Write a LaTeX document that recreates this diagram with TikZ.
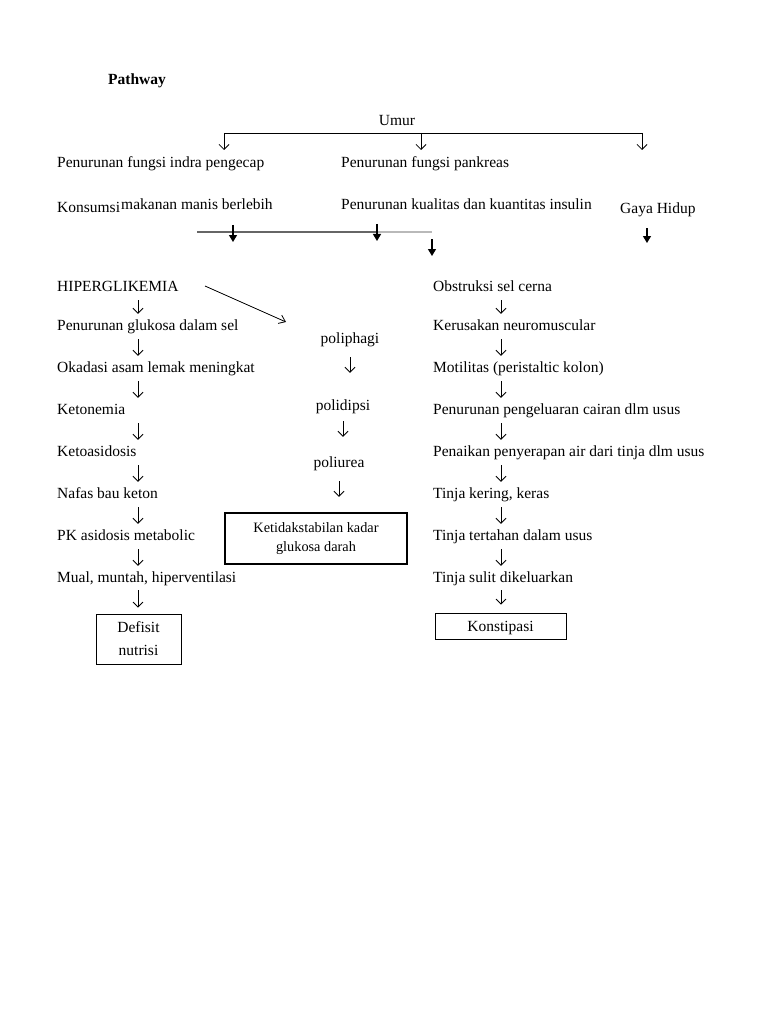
\documentclass[tikz,border=0pt]{standalone}
\usepackage{fontspec}
\setmainfont{Liberation Serif}
\usetikzlibrary{arrows.meta}
\begin{document}
\begin{tikzpicture}[x=1pt,y=-1pt,
  txt/.style={anchor=base west,inner sep=0pt,font=\fontsize{15.5pt}{18pt}\selectfont,text height=11pt,text depth=4pt},
  ctxt/.style={anchor=center,inner sep=0pt,font=\fontsize{15.5pt}{18pt}\selectfont,text height=11pt,text depth=4pt},
  openarr/.style={line width=0.8pt,-{Straight Barb[length=5pt,width=10pt,line width=0.8pt]}},
  fillarr/.style={line width=1.2pt,-{Triangle[length=7pt,width=8pt]}},
  boxnode/.style={draw,line width=0.8pt,align=center,inner sep=0pt,font=\fontsize{15.5pt}{19pt}\selectfont},
  onebox/.style={draw,line width=0.8pt,inner sep=0pt,font=\fontsize{15.5pt}{18pt}\selectfont,text height=13pt,text depth=2pt},
  chainarr/.style={openarr,shorten <=5pt,shorten >=5pt}
]
\useasboundingbox (0,0) rectangle (768,1024);

% title
\node[txt,font=\bfseries\fontsize{15.5pt}{18pt}\selectfont] (title) at (108,85) {Pathway};

% top level
\node[ctxt] (umur) at (397,122) {Umur};
\coordinate (tl) at (224,133);
\coordinate (tm) at (421,133);
\coordinate (tr) at (642,133);
\draw[line width=0.8pt] (tl) -- (tr);
\draw[openarr] (tl) -- ++(0,17);
\draw[openarr] (tm) -- ++(0,17);
\draw[openarr] (tr) -- ++(0,17);

\node[txt] (pfi) at (57,168) {Penurunan fungsi indra pengecap};
\node[txt] (pfp) at (341,168) {Penurunan fungsi pankreas};
\node[txt] (kons) at (57,213) {Konsumsi};
\node[txt] (mak) at (121,210) {makanan manis berlebih};
\node[txt] (pkk) at (341,210) {Penurunan kualitas dan kuantitas insulin};
\node[txt] (gaya) at (620,214) {Gaya Hidup};

% merging line
\coordinate (gl) at (197,232);
\coordinate (gm) at (377,232);
\coordinate (gr) at (432,232);
\draw[line width=1.5pt,gray!80!black] (gl) -- (gm);
\draw[line width=1.5pt,gray!55] (gm) -- (gr);
\draw[fillarr] (233,225) -- (233,242);
\draw[fillarr] (377,224) -- (377,241);
\draw[fillarr] (432,239) -- (432,256);
\draw[fillarr] (gaya.south -| 647,0) ++(0,10) -- (647,243);

% left chain
\coordinate (lx) at (138,0);
\node[txt] (L1) at (57,291) {HIPERGLIKEMIA};
\node[txt] (L2) at (57,330) {Penurunan glukosa dalam sel};
\node[txt] (L3) at (57,372) {Okadasi asam lemak meningkat};
\node[txt] (L4) at (57,414) {Ketonemia};
\node[txt] (L5) at (57,456) {Ketoasidosis};
\node[txt] (L6) at (57,498) {Nafas bau keton};
\node[txt] (L7) at (57,540) {PK asidosis metabolic};
\node[txt] (L8) at (57,582) {Mual, muntah, hiperventilasi};
\node[boxnode,minimum width=85pt,minimum height=50pt,font=\fontsize{15.5pt}{23pt}\selectfont] (def) at (138.5,639) {Defisit\\nutrisi};
\foreach \a/\b in {L1/L2,L2/L3,L3/L4,L4/L5,L5/L6,L6/L7,L7/L8}
  \draw[chainarr] (\a.south -| lx) -- (\b.north -| lx);
\draw[openarr,shorten <=4pt,shorten >=6pt] (L8.south -| lx) -- (def.north -| lx);

% middle chain
\coordinate (hs) at (205,286);
\coordinate (he) at (286,322);
\draw[line width=0.8pt,-{Straight Barb[length=6pt,width=9pt,line width=0.8pt]}] (hs) -- (he);
\node[ctxt] (pha) at (350,340) {poliphagi};
\node[ctxt] (dip) at (343,407) {polidipsi};
\node[ctxt] (uri) at (339,464) {poliurea};
\node[boxnode,line width=2.4pt,minimum width=182pt,minimum height=51pt,font=\fontsize{14.3pt}{19pt}\selectfont] (kgd) at (316,538.5) {Ketidakstabilan kadar\\glukosa darah};
\draw[openarr,shorten <=9.5pt,shorten >=26.5pt] (pha.south) -- (pha.south |- dip.north);
\draw[openarr,shorten <=6.5pt,shorten >=19.5pt] (dip.south) -- (dip.south |- uri.north);
\draw[openarr,shorten <=9.5pt,shorten >=15pt] (uri.south) -- (uri.south |- kgd.north);

% right chain
\coordinate (rx) at (501,0);
\node[txt] (R1) at (433,291) {Obstruksi sel cerna};
\node[txt] (R2) at (433,330) {Kerusakan neuromuscular};
\node[txt] (R3) at (433,372) {Motilitas (peristaltic kolon)};
\node[txt] (R4) at (433,414) {Penurunan pengeluaran cairan dlm usus};
\node[txt] (R5) at (433,456) {Penaikan penyerapan air dari tinja dlm usus};
\node[txt] (R6) at (433,498) {Tinja kering, keras};
\node[txt] (R7) at (433,540) {Tinja tertahan dalam usus};
\node[txt] (R8) at (433,582) {Tinja sulit dikeluarkan};
\node[onebox,minimum width=131pt,minimum height=26pt] (kon) at (500.5,626) {Konstipasi};
\foreach \a/\b in {R1/R2,R2/R3,R3/R4,R4/R5,R5/R6,R6/R7,R7/R8}
  \draw[chainarr] (\a.south -| rx) -- (\b.north -| rx);
\draw[openarr,shorten <=4pt,shorten >=8pt] (R8.south -| rx) -- (kon.north -| rx);
\end{tikzpicture}
\end{document}
